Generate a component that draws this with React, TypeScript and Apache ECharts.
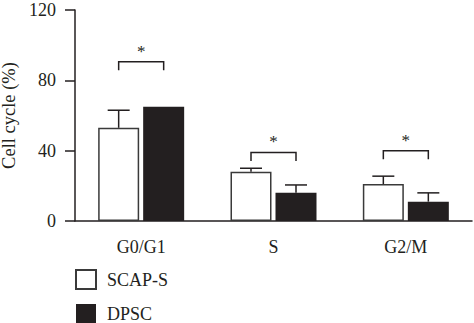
import React, { useEffect, useRef } from "react";
import * as echarts from "echarts";

const categories = ["G0/G1", "S", "G2/M"];
const scapS = [53, 28, 21];
const scapSErrTop = [63, 30, 25.5];
const dpsc = [65, 16, 11];
const dpscErrTop = [65, 20.5, 16];
const sigLevel = [90.5, 39, 40];
const sigLabel = ["*", "*", "*"];
const yTicks = [0, 40, 80, 120];

const FONT = "Liberation Serif";
const INK = "#231f20";
const BAR_W = 41;
const BAR_GAP_PX = 4;
const HALF = (BAR_W + BAR_GAP_PX) / 2;

export default function App() {
  const ref = useRef<HTMLDivElement>(null);
  useEffect(() => {
    if (!ref.current) return;
    const chart = echarts.init(ref.current, null, { renderer: "svg" });

    const errRender = (offset: number) => (params: any, api: any) => {
      const i = api.value(0);
      const base = api.coord([i, api.value(1)]);
      const top = api.coord([i, api.value(2)]);
      const x = base[0] + offset;
      if (Math.abs(top[1] - base[1]) < 0.5) return { type: "group", children: [] };
      return {
        type: "group",
        children: [
          { type: "line", shape: { x1: x, y1: base[1], x2: x, y2: top[1] }, style: { stroke: INK, lineWidth: 1.5 } },
          { type: "line", shape: { x1: x - 11, y1: top[1], x2: x + 11, y2: top[1] }, style: { stroke: INK, lineWidth: 1.5 } },
        ],
      };
    };

    chart.setOption({
      animation: false,
      grid: { left: 75, right: 2, top: 10, bottom: 102, containLabel: false, outerBoundsMode: "none" },
      legend: {
        orient: "vertical",
        left: 75,
        top: 269,
        padding: 0,
        itemWidth: 20,
        itemHeight: 19,
        itemGap: 14,
        icon: "rect",
        data: ["SCAP-S", "DPSC"],
        textStyle: { fontFamily: FONT, fontSize: 18, color: INK, padding: [0, 0, 0, 6] },
      },
      xAxis: {
        type: "category",
        data: categories,
        axisLine: { lineStyle: { color: INK, width: 1.5 } },
        axisTick: { alignWithLabel: true, length: 5, lineStyle: { color: INK, width: 1.5 } },
        axisLabel: { fontFamily: FONT, fontSize: 18, color: INK, margin: 17 },
      },
      yAxis: {
        type: "value",
        min: yTicks[0],
        max: yTicks[yTicks.length - 1],
        interval: yTicks[1] - yTicks[0],
        name: "Cell cycle (%)",
        nameLocation: "middle",
        nameGap: 51,
        nameTextStyle: { fontFamily: FONT, fontSize: 18.5, color: INK },
        axisLine: { show: true, lineStyle: { color: INK, width: 1.5 } },
        axisTick: { show: true, length: 10, lineStyle: { color: INK, width: 1.5 } },
        axisLabel: { fontFamily: FONT, fontSize: 18, color: INK, margin: 19 },
        splitLine: { show: false },
      },
      series: [
        {
          name: "SCAP-S",
          type: "bar",
          data: scapS,
          barWidth: BAR_W,
          barGap: (BAR_GAP_PX / BAR_W) * 100 + "%",
          itemStyle: { color: "#ffffff", borderColor: "#3a3a3a", borderWidth: 1.5 },
        },
        {
          name: "DPSC",
          type: "bar",
          data: dpsc,
          barWidth: BAR_W,
          itemStyle: { color: INK },
        },
        {
          type: "custom",
          z: 5,
          data: categories.map((_, i) => [i, scapS[i], scapSErrTop[i]]),
          renderItem: errRender(-HALF),
        },
        {
          type: "custom",
          z: 5,
          data: categories.map((_, i) => [i, dpsc[i], dpscErrTop[i]]),
          renderItem: errRender(HALF),
        },
        {
          type: "custom",
          z: 5,
          data: categories.map((_, i) => [i, sigLevel[i]]),
          renderItem: (params: any, api: any) => {
            const i = api.value(0);
            const p = api.coord([i, api.value(1)]);
            const x1 = p[0] - HALF;
            const x2 = p[0] + HALF;
            return {
              type: "group",
              children: [
                {
                  type: "polyline",
                  shape: { points: [[x1, p[1] + 8.5], [x1, p[1]], [x2, p[1]], [x2, p[1] + 8.5]] },
                  style: { stroke: INK, lineWidth: 1.5, fill: "none" },
                },
                {
                  type: "text",
                  x: p[0],
                  y: p[1] - 2,
                  style: {
                    text: sigLabel[params.dataIndex],
                    fontFamily: FONT,
                    fontSize: 17,
                    fill: INK,
                    align: "center",
                    verticalAlign: "bottom",
                  },
                },
              ],
            };
          },
        },
      ],
    });
    return () => chart.dispose();
  }, []);
  return <div ref={ref} style={{ width: 474, height: 323, position: "absolute", left: 0, top: 0, background: "#fff" }} />;
}
